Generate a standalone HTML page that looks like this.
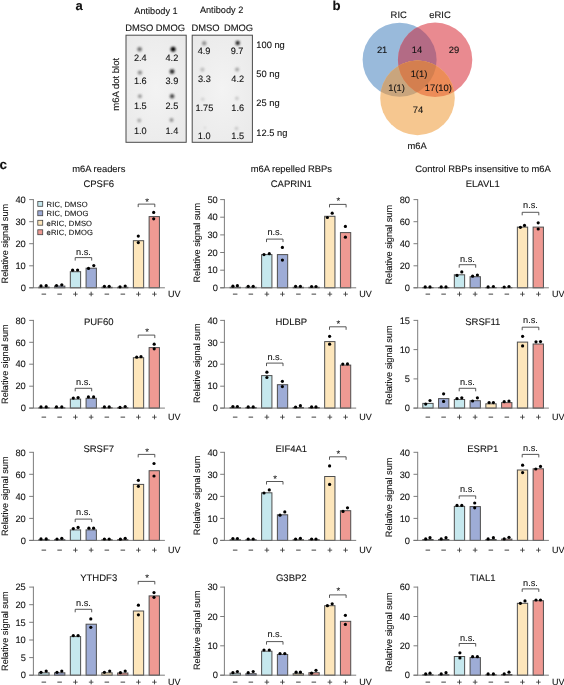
<!DOCTYPE html><html><head><meta charset="utf-8"><style>html,body{margin:0;padding:0;background:#fff;} svg{display:block;will-change:transform;} text{font-family:"Liberation Sans", sans-serif;fill:#111;stroke:#111;stroke-width:0.1px;-webkit-font-smoothing:antialiased;text-rendering:geometricPrecision;}</style></head><body>
<svg width="564" height="685" viewBox="0 0 564 685">
<rect width="564" height="685" fill="#fff"/>
<text x="75.4" y="9.7" font-size="13" text-anchor="start" font-weight="bold" >a</text>
<text x="156" y="13.6" font-size="9.2" text-anchor="middle" font-weight="normal" >Antibody 1</text>
<text x="221.6" y="13.2" font-size="9.2" text-anchor="middle" font-weight="normal" >Antibody 2</text>
<text x="139.2" y="31.0" font-size="9.4" text-anchor="middle" font-weight="normal" >DMSO</text>
<text x="170.4" y="31.0" font-size="9.4" text-anchor="middle" font-weight="normal" >DMOG</text>
<text x="205.5" y="31.0" font-size="9.4" text-anchor="middle" font-weight="normal" >DMSO</text>
<text x="238.5" y="31.0" font-size="9.4" text-anchor="middle" font-weight="normal" >DMOG</text>
<defs><radialGradient id="blot" cx="50%" cy="50%" r="70%"><stop offset="0" stop-color="#f3f3f3"/><stop offset="1" stop-color="#e9e9e9"/></radialGradient><filter id="blur" x="-1" y="-1" width="3" height="3"><feGaussianBlur stdDeviation="0.8"/></filter></defs>
<rect x="126.0" y="35.2" width="60.19999999999999" height="107.1" fill="url(#blot)" stroke="#4a4a4a" stroke-width="1"/>
<rect x="192.2" y="35.2" width="60.20000000000002" height="107.1" fill="url(#blot)" stroke="#4a4a4a" stroke-width="1"/>
<circle cx="139.6" cy="49.2" r="2.3" fill="#707070" filter="url(#blur)"/>
<circle cx="173.1" cy="49.2" r="2.5" fill="#000" filter="url(#blur)"/>
<circle cx="139.9" cy="72.6" r="2.2" fill="#8c8c8c" filter="url(#blur)"/>
<circle cx="172.1" cy="71.6" r="2.4" fill="#222" filter="url(#blur)"/>
<circle cx="139.9" cy="96.2" r="2.0" fill="#999" filter="url(#blur)"/>
<circle cx="172.1" cy="96.2" r="2.2" fill="#444" filter="url(#blur)"/>
<circle cx="139.2" cy="120.6" r="2.0" fill="#aaa" filter="url(#blur)"/>
<circle cx="171.5" cy="120.0" r="2.0" fill="#909090" filter="url(#blur)"/>
<circle cx="204.2" cy="43.3" r="2.2" fill="#8e8e8e" filter="url(#blur)"/>
<circle cx="237.7" cy="43.0" r="2.2" fill="#222" filter="url(#blur)"/>
<circle cx="202.4" cy="69.7" r="2.1" fill="#bdbdbd" filter="url(#blur)"/>
<circle cx="237.1" cy="69.5" r="2.0" fill="#a2a2a2" filter="url(#blur)"/>
<circle cx="202.7" cy="99.3" r="1.8" fill="#d0d0d0" filter="url(#blur)"/>
<circle cx="236.9" cy="98.4" r="1.8" fill="#c6c6c6" filter="url(#blur)"/>
<circle cx="204.9" cy="127.8" r="1.1" fill="#cfcfcf" filter="url(#blur)"/>
<circle cx="236.5" cy="128.4" r="1.7" fill="#c4c4c4" filter="url(#blur)"/>
<text x="140.3" y="61.0" font-size="9.2" text-anchor="middle" font-weight="normal" >2.4</text>
<text x="171.9" y="61.0" font-size="9.2" text-anchor="middle" font-weight="normal" >4.2</text>
<text x="140.3" y="83.9" font-size="9.2" text-anchor="middle" font-weight="normal" >1.6</text>
<text x="171.9" y="83.9" font-size="9.2" text-anchor="middle" font-weight="normal" >3.9</text>
<text x="140.3" y="109.0" font-size="9.2" text-anchor="middle" font-weight="normal" >1.5</text>
<text x="171.9" y="109.0" font-size="9.2" text-anchor="middle" font-weight="normal" >2.5</text>
<text x="140.3" y="133.6" font-size="9.2" text-anchor="middle" font-weight="normal" >1.0</text>
<text x="171.9" y="133.6" font-size="9.2" text-anchor="middle" font-weight="normal" >1.4</text>
<text x="204.1" y="54.4" font-size="9.2" text-anchor="middle" font-weight="normal" >4.9</text>
<text x="237.1" y="54.4" font-size="9.2" text-anchor="middle" font-weight="normal" >9.7</text>
<text x="204.4" y="81.7" font-size="9.2" text-anchor="middle" font-weight="normal" >3.3</text>
<text x="237.7" y="81.7" font-size="9.2" text-anchor="middle" font-weight="normal" >4.2</text>
<text x="204.4" y="111.3" font-size="9.2" text-anchor="middle" font-weight="normal" >1.75</text>
<text x="237.7" y="111.3" font-size="9.2" text-anchor="middle" font-weight="normal" >1.6</text>
<text x="204.2" y="139.4" font-size="9.2" text-anchor="middle" font-weight="normal" >1.0</text>
<text x="237.7" y="139.4" font-size="9.2" text-anchor="middle" font-weight="normal" >1.5</text>
<text x="256.3" y="47.8" font-size="9.3" text-anchor="start" font-weight="normal" >100 ng</text>
<text x="256.3" y="77.1" font-size="9.3" text-anchor="start" font-weight="normal" >50 ng</text>
<text x="256.3" y="106.4" font-size="9.3" text-anchor="start" font-weight="normal" >25 ng</text>
<text x="256.3" y="135.8" font-size="9.3" text-anchor="start" font-weight="normal" >12.5 ng</text>
<text x="0" y="0" font-size="9.5" text-anchor="middle" transform="translate(118.8,84.3) rotate(-90)">m6A dot blot</text>
<text x="332.4" y="9.85" font-size="13.2" text-anchor="start" font-weight="bold" >b</text>
<defs><clipPath id="cB"><circle cx="399.6" cy="59.8" r="37"/></clipPath><clipPath id="cR"><circle cx="435.1" cy="59.8" r="37.2"/></clipPath></defs>
<circle cx="399.6" cy="59.8" r="37" fill="#99badb"/>
<circle cx="435.1" cy="59.8" r="37.2" fill="#e98a90"/>
<circle cx="435.1" cy="59.8" r="37.2" fill="#b36b85" clip-path="url(#cB)"/>
<circle cx="417.5" cy="97.9" r="37.3" fill="#f6c790"/>
<circle cx="417.5" cy="97.9" r="37.3" fill="#c9a57d" clip-path="url(#cB)"/>
<circle cx="417.5" cy="97.9" r="37.3" fill="#ec8c58" clip-path="url(#cR)"/>
<g clip-path="url(#cB)"><circle cx="417.5" cy="97.9" r="37.3" fill="#d47f4f" clip-path="url(#cR)"/></g>
<text x="398.7" y="17.8" font-size="9.4" text-anchor="middle" font-weight="normal" >RIC</text>
<text x="440.0" y="17.8" font-size="9.4" text-anchor="middle" font-weight="normal" >eRIC</text>
<text x="417.2" y="148.9" font-size="9.4" text-anchor="middle" font-weight="normal" >m6A</text>
<text x="382.1" y="53.3" font-size="9.4" text-anchor="middle" font-weight="normal" >21</text>
<text x="416.9" y="53.3" font-size="9.4" text-anchor="middle" font-weight="normal" >14</text>
<text x="454.0" y="53.3" font-size="9.4" text-anchor="middle" font-weight="normal" >29</text>
<text x="419.0" y="76.9" font-size="9.4" text-anchor="middle" font-weight="normal" >1(1)</text>
<text x="396.6" y="90.8" font-size="9.4" text-anchor="middle" font-weight="normal" >1(1)</text>
<text x="438.3" y="90.8" font-size="9.4" text-anchor="middle" font-weight="normal" >17(10)</text>
<text x="418.0" y="113.1" font-size="9.4" text-anchor="middle" font-weight="normal" >74</text>
<text x="-0.5" y="169.0" font-size="13.4" text-anchor="start" font-weight="bold" >c</text>
<text x="98.8" y="171.6" font-size="9.4" text-anchor="middle" font-weight="normal" >m6A readers</text>
<text x="291.3" y="171.6" font-size="9.4" text-anchor="middle" font-weight="normal" >m6A repelled RBPs</text>
<text x="483.1" y="171.6" font-size="9.4" text-anchor="middle" font-weight="normal" >Control RBPs insensitive to m6A</text>
<text x="0" y="0" font-size="9.2" text-anchor="middle" transform="translate(7.5,243.6) rotate(-90)">Relative signal sum</text>
<line x1="29.2" y1="287.8" x2="33.4" y2="287.8" stroke="#6e6e6e" stroke-width="0.9"/>
<text x="25.8" y="291.0" font-size="9.3" text-anchor="end" font-weight="normal" >0</text>
<line x1="29.2" y1="265.8" x2="33.4" y2="265.8" stroke="#6e6e6e" stroke-width="0.9"/>
<text x="25.8" y="268.9" font-size="9.3" text-anchor="end" font-weight="normal" >10</text>
<line x1="29.2" y1="243.7" x2="33.4" y2="243.7" stroke="#6e6e6e" stroke-width="0.9"/>
<text x="25.8" y="246.9" font-size="9.3" text-anchor="end" font-weight="normal" >20</text>
<line x1="29.2" y1="221.7" x2="33.4" y2="221.7" stroke="#6e6e6e" stroke-width="0.9"/>
<text x="25.8" y="224.8" font-size="9.3" text-anchor="end" font-weight="normal" >30</text>
<line x1="29.2" y1="199.6" x2="33.4" y2="199.6" stroke="#6e6e6e" stroke-width="0.9"/>
<text x="25.8" y="202.8" font-size="9.3" text-anchor="end" font-weight="normal" >40</text>
<line x1="33.4" y1="199.2" x2="33.4" y2="287.8" stroke="#6e6e6e" stroke-width="0.9"/>
<rect x="38.80" y="287.10" width="10.30" height="0.70" fill="#c6e8ee" stroke="#4e4e4e" stroke-width="1"/>
<rect x="54.56" y="286.10" width="10.30" height="1.70" fill="#9eacd6" stroke="#4e4e4e" stroke-width="1"/>
<rect x="70.32" y="271.70" width="10.30" height="16.10" fill="#c6e8ee" stroke="#4e4e4e" stroke-width="1"/>
<rect x="86.08" y="268.20" width="10.30" height="19.60" fill="#9eacd6" stroke="#4e4e4e" stroke-width="1"/>
<rect x="101.84" y="287.30" width="10.30" height="0.50" fill="#fde6bb" stroke="#4e4e4e" stroke-width="1"/>
<rect x="117.60" y="287.30" width="10.30" height="0.50" fill="#ef9a93" stroke="#4e4e4e" stroke-width="1"/>
<rect x="133.36" y="240.70" width="10.30" height="47.10" fill="#fde6bb" stroke="#4e4e4e" stroke-width="1"/>
<rect x="149.12" y="216.60" width="10.30" height="71.20" fill="#ef9a93" stroke="#4e4e4e" stroke-width="1"/>
<line x1="29.2" y1="287.8" x2="164.9" y2="287.8" stroke="#6e6e6e" stroke-width="0.9"/>
<circle cx="41" cy="285.9" r="1.6" fill="#000"/>
<circle cx="46.2" cy="285.7" r="1.6" fill="#000"/>
<circle cx="56.5" cy="285.5" r="1.6" fill="#000"/>
<circle cx="61.8" cy="284.8" r="1.6" fill="#000"/>
<circle cx="72.6" cy="270.2" r="1.6" fill="#000"/>
<circle cx="77.6" cy="270.0" r="1.6" fill="#000"/>
<circle cx="88.5" cy="268.4" r="1.6" fill="#000"/>
<circle cx="93.8" cy="265.6" r="1.6" fill="#000"/>
<circle cx="104.4" cy="286.3" r="1.6" fill="#000"/>
<circle cx="109.2" cy="286.3" r="1.6" fill="#000"/>
<circle cx="120.0" cy="286.8" r="1.6" fill="#000"/>
<circle cx="125.2" cy="286.0" r="1.6" fill="#000"/>
<circle cx="138.3" cy="236.1" r="1.6" fill="#000"/>
<circle cx="138.3" cy="242.6" r="1.6" fill="#000"/>
<circle cx="153.7" cy="212.4" r="1.6" fill="#000"/>
<circle cx="153.7" cy="218.8" r="1.6" fill="#000"/>
<path d="M75.2,260.6 V257.6 H91.7 V260.6" fill="none" stroke="#3a3a3a" stroke-width="0.85"/>
<text x="83.5" y="255.3" font-size="9.2" text-anchor="middle" font-weight="normal" >n.s.</text>
<path d="M138.2,207.1 V204.1 H154.8 V207.1" fill="none" stroke="#3a3a3a" stroke-width="0.85"/>
<text x="147.0" y="204.5" font-size="9.5" text-anchor="middle" font-weight="normal" >*</text>
<text x="43.9" y="297.4" font-size="9" text-anchor="middle" font-weight="normal" >−</text>
<text x="59.7" y="297.4" font-size="9" text-anchor="middle" font-weight="normal" >−</text>
<text x="75.5" y="297.4" font-size="9" text-anchor="middle" font-weight="normal" >+</text>
<text x="91.2" y="297.4" font-size="9" text-anchor="middle" font-weight="normal" >+</text>
<text x="107.0" y="297.4" font-size="9" text-anchor="middle" font-weight="normal" >−</text>
<text x="122.8" y="297.4" font-size="9" text-anchor="middle" font-weight="normal" >−</text>
<text x="138.5" y="297.4" font-size="9" text-anchor="middle" font-weight="normal" >+</text>
<text x="154.3" y="297.4" font-size="9" text-anchor="middle" font-weight="normal" >+</text>
<text x="167.9" y="297.4" font-size="9" text-anchor="start" font-weight="normal" >UV</text>
<text x="98.7" y="186.7" font-size="9.5" text-anchor="middle" font-weight="normal" >CPSF6</text>
<text x="0" y="0" font-size="9.2" text-anchor="middle" transform="translate(200.3,242.7) rotate(-90)">Relative signal sum</text>
<line x1="220.2" y1="287.8" x2="224.4" y2="287.8" stroke="#6e6e6e" stroke-width="0.9"/>
<text x="217.8" y="291.0" font-size="9.3" text-anchor="end" font-weight="normal" >0</text>
<line x1="220.2" y1="270.2" x2="224.4" y2="270.2" stroke="#6e6e6e" stroke-width="0.9"/>
<text x="217.8" y="273.4" font-size="9.3" text-anchor="end" font-weight="normal" >10</text>
<line x1="220.2" y1="252.5" x2="224.4" y2="252.5" stroke="#6e6e6e" stroke-width="0.9"/>
<text x="217.8" y="255.7" font-size="9.3" text-anchor="end" font-weight="normal" >20</text>
<line x1="220.2" y1="234.9" x2="224.4" y2="234.9" stroke="#6e6e6e" stroke-width="0.9"/>
<text x="217.8" y="238.1" font-size="9.3" text-anchor="end" font-weight="normal" >30</text>
<line x1="220.2" y1="217.2" x2="224.4" y2="217.2" stroke="#6e6e6e" stroke-width="0.9"/>
<text x="217.8" y="220.4" font-size="9.3" text-anchor="end" font-weight="normal" >40</text>
<line x1="220.2" y1="199.6" x2="224.4" y2="199.6" stroke="#6e6e6e" stroke-width="0.9"/>
<text x="217.8" y="202.8" font-size="9.3" text-anchor="end" font-weight="normal" >50</text>
<line x1="224.4" y1="199.2" x2="224.4" y2="287.8" stroke="#6e6e6e" stroke-width="0.9"/>
<rect x="230.10" y="287.30" width="10.30" height="0.50" fill="#c6e8ee" stroke="#4e4e4e" stroke-width="1"/>
<rect x="245.86" y="287.30" width="10.30" height="0.50" fill="#9eacd6" stroke="#4e4e4e" stroke-width="1"/>
<rect x="261.62" y="254.60" width="10.30" height="33.20" fill="#c6e8ee" stroke="#4e4e4e" stroke-width="1"/>
<rect x="277.38" y="254.60" width="10.30" height="33.20" fill="#9eacd6" stroke="#4e4e4e" stroke-width="1"/>
<rect x="293.14" y="287.30" width="10.30" height="0.50" fill="#fde6bb" stroke="#4e4e4e" stroke-width="1"/>
<rect x="308.90" y="287.30" width="10.30" height="0.50" fill="#ef9a93" stroke="#4e4e4e" stroke-width="1"/>
<rect x="324.66" y="216.30" width="10.30" height="71.50" fill="#fde6bb" stroke="#4e4e4e" stroke-width="1"/>
<rect x="340.42" y="232.60" width="10.30" height="55.20" fill="#ef9a93" stroke="#4e4e4e" stroke-width="1"/>
<line x1="220.2" y1="287.8" x2="356.2" y2="287.8" stroke="#6e6e6e" stroke-width="0.9"/>
<circle cx="232.9" cy="286.2" r="1.6" fill="#000"/>
<circle cx="237.4" cy="285.7" r="1.6" fill="#000"/>
<circle cx="248.2" cy="286.3" r="1.6" fill="#000"/>
<circle cx="253.2" cy="286.3" r="1.6" fill="#000"/>
<circle cx="264" cy="254.6" r="1.6" fill="#000"/>
<circle cx="269.3" cy="253.7" r="1.6" fill="#000"/>
<circle cx="282.4" cy="247.4" r="1.6" fill="#000"/>
<circle cx="282.4" cy="260.1" r="1.6" fill="#000"/>
<circle cx="295.6" cy="286.3" r="1.6" fill="#000"/>
<circle cx="300.4" cy="286.3" r="1.6" fill="#000"/>
<circle cx="311.6" cy="286.5" r="1.6" fill="#000"/>
<circle cx="316.0" cy="286.5" r="1.6" fill="#000"/>
<circle cx="327.4" cy="217.5" r="1.6" fill="#000"/>
<circle cx="332.2" cy="213.2" r="1.6" fill="#000"/>
<circle cx="345.4" cy="226.4" r="1.6" fill="#000"/>
<circle cx="345.4" cy="237.2" r="1.6" fill="#000"/>
<path d="M266.5,242.1 V239.1 H283.0 V242.1" fill="none" stroke="#3a3a3a" stroke-width="0.85"/>
<text x="274.8" y="234.7" font-size="9.2" text-anchor="middle" font-weight="normal" >n.s.</text>
<path d="M329.5,207.4 V204.4 H346.1 V207.4" fill="none" stroke="#3a3a3a" stroke-width="0.85"/>
<text x="338.3" y="204.1" font-size="9.5" text-anchor="middle" font-weight="normal" >*</text>
<text x="235.2" y="297.4" font-size="9" text-anchor="middle" font-weight="normal" >−</text>
<text x="251.0" y="297.4" font-size="9" text-anchor="middle" font-weight="normal" >−</text>
<text x="266.8" y="297.4" font-size="9" text-anchor="middle" font-weight="normal" >+</text>
<text x="282.5" y="297.4" font-size="9" text-anchor="middle" font-weight="normal" >+</text>
<text x="298.3" y="297.4" font-size="9" text-anchor="middle" font-weight="normal" >−</text>
<text x="314.0" y="297.4" font-size="9" text-anchor="middle" font-weight="normal" >−</text>
<text x="329.8" y="297.4" font-size="9" text-anchor="middle" font-weight="normal" >+</text>
<text x="345.6" y="297.4" font-size="9" text-anchor="middle" font-weight="normal" >+</text>
<text x="359.2" y="297.4" font-size="9" text-anchor="start" font-weight="normal" >UV</text>
<text x="291.3" y="186.7" font-size="9.5" text-anchor="middle" font-weight="normal" >CAPRIN1</text>
<text x="0" y="0" font-size="9.2" text-anchor="middle" transform="translate(392.0,244.7) rotate(-90)">Relative signal sum</text>
<line x1="413.5" y1="287.8" x2="417.7" y2="287.8" stroke="#6e6e6e" stroke-width="0.9"/>
<text x="410.0" y="291.0" font-size="9.3" text-anchor="end" font-weight="normal" >0</text>
<line x1="413.5" y1="265.8" x2="417.7" y2="265.8" stroke="#6e6e6e" stroke-width="0.9"/>
<text x="410.0" y="268.9" font-size="9.3" text-anchor="end" font-weight="normal" >20</text>
<line x1="413.5" y1="243.7" x2="417.7" y2="243.7" stroke="#6e6e6e" stroke-width="0.9"/>
<text x="410.0" y="246.9" font-size="9.3" text-anchor="end" font-weight="normal" >40</text>
<line x1="413.5" y1="221.7" x2="417.7" y2="221.7" stroke="#6e6e6e" stroke-width="0.9"/>
<text x="410.0" y="224.8" font-size="9.3" text-anchor="end" font-weight="normal" >60</text>
<line x1="413.5" y1="199.6" x2="417.7" y2="199.6" stroke="#6e6e6e" stroke-width="0.9"/>
<text x="410.0" y="202.8" font-size="9.3" text-anchor="end" font-weight="normal" >80</text>
<line x1="417.7" y1="199.2" x2="417.7" y2="287.8" stroke="#6e6e6e" stroke-width="0.9"/>
<rect x="422.80" y="287.50" width="10.30" height="0.30" fill="#c6e8ee" stroke="#4e4e4e" stroke-width="1"/>
<rect x="438.56" y="287.50" width="10.30" height="0.30" fill="#9eacd6" stroke="#4e4e4e" stroke-width="1"/>
<rect x="454.32" y="274.80" width="10.30" height="13.00" fill="#c6e8ee" stroke="#4e4e4e" stroke-width="1"/>
<rect x="470.08" y="276.70" width="10.30" height="11.10" fill="#9eacd6" stroke="#4e4e4e" stroke-width="1"/>
<rect x="485.84" y="287.50" width="10.30" height="0.30" fill="#fde6bb" stroke="#4e4e4e" stroke-width="1"/>
<rect x="501.60" y="287.50" width="10.30" height="0.30" fill="#ef9a93" stroke="#4e4e4e" stroke-width="1"/>
<rect x="517.36" y="227.10" width="10.30" height="60.70" fill="#fde6bb" stroke="#4e4e4e" stroke-width="1"/>
<rect x="533.12" y="227.10" width="10.30" height="60.70" fill="#ef9a93" stroke="#4e4e4e" stroke-width="1"/>
<line x1="413.5" y1="287.8" x2="548.9" y2="287.8" stroke="#6e6e6e" stroke-width="0.9"/>
<circle cx="425.2" cy="286.9" r="1.6" fill="#000"/>
<circle cx="430" cy="286.9" r="1.6" fill="#000"/>
<circle cx="441.2" cy="286.9" r="1.6" fill="#000"/>
<circle cx="446" cy="286.9" r="1.6" fill="#000"/>
<circle cx="457" cy="275.4" r="1.6" fill="#000"/>
<circle cx="461.8" cy="271.9" r="1.6" fill="#000"/>
<circle cx="472.6" cy="276.2" r="1.6" fill="#000"/>
<circle cx="477.4" cy="275.0" r="1.6" fill="#000"/>
<circle cx="488.1" cy="286.9" r="1.6" fill="#000"/>
<circle cx="493.4" cy="286.5" r="1.6" fill="#000"/>
<circle cx="504.2" cy="287.0" r="1.6" fill="#000"/>
<circle cx="509" cy="286.5" r="1.6" fill="#000"/>
<circle cx="520.4" cy="227.3" r="1.6" fill="#000"/>
<circle cx="524.5" cy="225.4" r="1.6" fill="#000"/>
<circle cx="538.2" cy="222.8" r="1.6" fill="#000"/>
<circle cx="538.2" cy="229.0" r="1.6" fill="#000"/>
<path d="M459.2,267.7 V264.7 H475.7 V267.7" fill="none" stroke="#3a3a3a" stroke-width="0.85"/>
<text x="467.4" y="261.5" font-size="9.2" text-anchor="middle" font-weight="normal" >n.s.</text>
<path d="M522.2,215.3 V212.3 H538.8 V215.3" fill="none" stroke="#3a3a3a" stroke-width="0.85"/>
<text x="530.5" y="208.4" font-size="9.2" text-anchor="middle" font-weight="normal" >n.s.</text>
<text x="427.9" y="297.4" font-size="9" text-anchor="middle" font-weight="normal" >−</text>
<text x="443.7" y="297.4" font-size="9" text-anchor="middle" font-weight="normal" >−</text>
<text x="459.5" y="297.4" font-size="9" text-anchor="middle" font-weight="normal" >+</text>
<text x="475.2" y="297.4" font-size="9" text-anchor="middle" font-weight="normal" >+</text>
<text x="491.0" y="297.4" font-size="9" text-anchor="middle" font-weight="normal" >−</text>
<text x="506.8" y="297.4" font-size="9" text-anchor="middle" font-weight="normal" >−</text>
<text x="522.5" y="297.4" font-size="9" text-anchor="middle" font-weight="normal" >+</text>
<text x="538.3" y="297.4" font-size="9" text-anchor="middle" font-weight="normal" >+</text>
<text x="551.9" y="297.4" font-size="9" text-anchor="start" font-weight="normal" >UV</text>
<text x="482.8" y="186.7" font-size="9.5" text-anchor="middle" font-weight="normal" >ELAVL1</text>
<text x="0" y="0" font-size="9.2" text-anchor="middle" transform="translate(7.5,364.1) rotate(-90)">Relative signal sum</text>
<line x1="29.2" y1="408.1" x2="33.4" y2="408.1" stroke="#6e6e6e" stroke-width="0.9"/>
<text x="25.8" y="411.3" font-size="9.3" text-anchor="end" font-weight="normal" >0</text>
<line x1="29.2" y1="386.2" x2="33.4" y2="386.2" stroke="#6e6e6e" stroke-width="0.9"/>
<text x="25.8" y="389.4" font-size="9.3" text-anchor="end" font-weight="normal" >20</text>
<line x1="29.2" y1="364.2" x2="33.4" y2="364.2" stroke="#6e6e6e" stroke-width="0.9"/>
<text x="25.8" y="367.4" font-size="9.3" text-anchor="end" font-weight="normal" >40</text>
<line x1="29.2" y1="342.3" x2="33.4" y2="342.3" stroke="#6e6e6e" stroke-width="0.9"/>
<text x="25.8" y="345.5" font-size="9.3" text-anchor="end" font-weight="normal" >60</text>
<line x1="29.2" y1="320.4" x2="33.4" y2="320.4" stroke="#6e6e6e" stroke-width="0.9"/>
<text x="25.8" y="323.6" font-size="9.3" text-anchor="end" font-weight="normal" >80</text>
<line x1="33.4" y1="319.9" x2="33.4" y2="408.1" stroke="#6e6e6e" stroke-width="0.9"/>
<rect x="38.80" y="407.70" width="10.30" height="0.40" fill="#c6e8ee" stroke="#4e4e4e" stroke-width="1"/>
<rect x="54.56" y="407.70" width="10.30" height="0.40" fill="#9eacd6" stroke="#4e4e4e" stroke-width="1"/>
<rect x="70.32" y="399.10" width="10.30" height="9.00" fill="#c6e8ee" stroke="#4e4e4e" stroke-width="1"/>
<rect x="86.08" y="398.30" width="10.30" height="9.80" fill="#9eacd6" stroke="#4e4e4e" stroke-width="1"/>
<rect x="101.84" y="407.70" width="10.30" height="0.40" fill="#fde6bb" stroke="#4e4e4e" stroke-width="1"/>
<rect x="117.60" y="407.70" width="10.30" height="0.40" fill="#ef9a93" stroke="#4e4e4e" stroke-width="1"/>
<rect x="133.36" y="357.70" width="10.30" height="50.40" fill="#fde6bb" stroke="#4e4e4e" stroke-width="1"/>
<rect x="149.12" y="347.60" width="10.30" height="60.50" fill="#ef9a93" stroke="#4e4e4e" stroke-width="1"/>
<line x1="29.2" y1="408.1" x2="164.9" y2="408.1" stroke="#6e6e6e" stroke-width="0.9"/>
<circle cx="41" cy="406.9" r="1.6" fill="#000"/>
<circle cx="46.2" cy="406.9" r="1.6" fill="#000"/>
<circle cx="56.5" cy="406.9" r="1.6" fill="#000"/>
<circle cx="61.8" cy="406.9" r="1.6" fill="#000"/>
<circle cx="73.3" cy="398.1" r="1.6" fill="#000"/>
<circle cx="78.1" cy="397.6" r="1.6" fill="#000"/>
<circle cx="88.4" cy="396.9" r="1.6" fill="#000"/>
<circle cx="93.6" cy="396.9" r="1.6" fill="#000"/>
<circle cx="104.4" cy="406.9" r="1.6" fill="#000"/>
<circle cx="109.2" cy="406.9" r="1.6" fill="#000"/>
<circle cx="120" cy="407.4" r="1.6" fill="#000"/>
<circle cx="125.2" cy="406.5" r="1.6" fill="#000"/>
<circle cx="136.7" cy="357.2" r="1.6" fill="#000"/>
<circle cx="141" cy="356.7" r="1.6" fill="#000"/>
<circle cx="154.2" cy="344.2" r="1.6" fill="#000"/>
<circle cx="154.2" cy="348.8" r="1.6" fill="#000"/>
<path d="M75.2,391.3 V388.3 H91.7 V391.3" fill="none" stroke="#3a3a3a" stroke-width="0.85"/>
<text x="83.5" y="385.1" font-size="9.2" text-anchor="middle" font-weight="normal" >n.s.</text>
<path d="M138.2,338.1 V335.1 H154.8 V338.1" fill="none" stroke="#3a3a3a" stroke-width="0.85"/>
<text x="147.0" y="334.6" font-size="9.5" text-anchor="middle" font-weight="normal" >*</text>
<text x="43.9" y="419.5" font-size="9" text-anchor="middle" font-weight="normal" >−</text>
<text x="59.7" y="419.5" font-size="9" text-anchor="middle" font-weight="normal" >−</text>
<text x="75.5" y="419.5" font-size="9" text-anchor="middle" font-weight="normal" >+</text>
<text x="91.2" y="419.5" font-size="9" text-anchor="middle" font-weight="normal" >+</text>
<text x="107.0" y="419.5" font-size="9" text-anchor="middle" font-weight="normal" >−</text>
<text x="122.8" y="419.5" font-size="9" text-anchor="middle" font-weight="normal" >−</text>
<text x="138.5" y="419.5" font-size="9" text-anchor="middle" font-weight="normal" >+</text>
<text x="154.3" y="419.5" font-size="9" text-anchor="middle" font-weight="normal" >+</text>
<text x="167.9" y="419.5" font-size="9" text-anchor="start" font-weight="normal" >UV</text>
<text x="98.7" y="324.8" font-size="9.5" text-anchor="middle" font-weight="normal" >PUF60</text>
<text x="0" y="0" font-size="9.2" text-anchor="middle" transform="translate(200.3,363.2) rotate(-90)">Relative signal sum</text>
<line x1="220.2" y1="408.1" x2="224.4" y2="408.1" stroke="#6e6e6e" stroke-width="0.9"/>
<text x="217.8" y="411.3" font-size="9.3" text-anchor="end" font-weight="normal" >0</text>
<line x1="220.2" y1="386.2" x2="224.4" y2="386.2" stroke="#6e6e6e" stroke-width="0.9"/>
<text x="217.8" y="389.4" font-size="9.3" text-anchor="end" font-weight="normal" >10</text>
<line x1="220.2" y1="364.2" x2="224.4" y2="364.2" stroke="#6e6e6e" stroke-width="0.9"/>
<text x="217.8" y="367.4" font-size="9.3" text-anchor="end" font-weight="normal" >20</text>
<line x1="220.2" y1="342.3" x2="224.4" y2="342.3" stroke="#6e6e6e" stroke-width="0.9"/>
<text x="217.8" y="345.5" font-size="9.3" text-anchor="end" font-weight="normal" >30</text>
<line x1="220.2" y1="320.4" x2="224.4" y2="320.4" stroke="#6e6e6e" stroke-width="0.9"/>
<text x="217.8" y="323.6" font-size="9.3" text-anchor="end" font-weight="normal" >40</text>
<line x1="224.4" y1="319.9" x2="224.4" y2="408.1" stroke="#6e6e6e" stroke-width="0.9"/>
<rect x="230.10" y="407.50" width="10.30" height="0.60" fill="#c6e8ee" stroke="#4e4e4e" stroke-width="1"/>
<rect x="245.86" y="407.50" width="10.30" height="0.60" fill="#9eacd6" stroke="#4e4e4e" stroke-width="1"/>
<rect x="261.62" y="375.60" width="10.30" height="32.50" fill="#c6e8ee" stroke="#4e4e4e" stroke-width="1"/>
<rect x="277.38" y="384.70" width="10.30" height="23.40" fill="#9eacd6" stroke="#4e4e4e" stroke-width="1"/>
<rect x="293.14" y="407.50" width="10.30" height="0.60" fill="#fde6bb" stroke="#4e4e4e" stroke-width="1"/>
<rect x="308.90" y="407.50" width="10.30" height="0.60" fill="#ef9a93" stroke="#4e4e4e" stroke-width="1"/>
<rect x="324.66" y="341.60" width="10.30" height="66.50" fill="#fde6bb" stroke="#4e4e4e" stroke-width="1"/>
<rect x="340.42" y="365.10" width="10.30" height="43.00" fill="#ef9a93" stroke="#4e4e4e" stroke-width="1"/>
<line x1="220.2" y1="408.1" x2="356.2" y2="408.1" stroke="#6e6e6e" stroke-width="0.9"/>
<circle cx="232.9" cy="406.5" r="1.6" fill="#000"/>
<circle cx="237.4" cy="406.5" r="1.6" fill="#000"/>
<circle cx="248.2" cy="406.9" r="1.6" fill="#000"/>
<circle cx="253.2" cy="406.9" r="1.6" fill="#000"/>
<circle cx="266.9" cy="372.2" r="1.6" fill="#000"/>
<circle cx="266.9" cy="377.5" r="1.6" fill="#000"/>
<circle cx="282.4" cy="381.3" r="1.6" fill="#000"/>
<circle cx="282.4" cy="386.6" r="1.6" fill="#000"/>
<circle cx="295.6" cy="407" r="1.6" fill="#000"/>
<circle cx="300.4" cy="405.7" r="1.6" fill="#000"/>
<circle cx="311.6" cy="406.9" r="1.6" fill="#000"/>
<circle cx="316" cy="406.9" r="1.6" fill="#000"/>
<circle cx="329.6" cy="336.3" r="1.6" fill="#000"/>
<circle cx="329.6" cy="344.2" r="1.6" fill="#000"/>
<circle cx="342.8" cy="364.1" r="1.6" fill="#000"/>
<circle cx="347.5" cy="363.9" r="1.6" fill="#000"/>
<path d="M266.5,366.1 V363.1 H283.0 V366.1" fill="none" stroke="#3a3a3a" stroke-width="0.85"/>
<text x="274.8" y="360.0" font-size="9.2" text-anchor="middle" font-weight="normal" >n.s.</text>
<path d="M329.5,329.8 V326.8 H346.1 V329.8" fill="none" stroke="#3a3a3a" stroke-width="0.85"/>
<text x="338.3" y="326.5" font-size="9.5" text-anchor="middle" font-weight="normal" >*</text>
<text x="235.2" y="419.5" font-size="9" text-anchor="middle" font-weight="normal" >−</text>
<text x="251.0" y="419.5" font-size="9" text-anchor="middle" font-weight="normal" >−</text>
<text x="266.8" y="419.5" font-size="9" text-anchor="middle" font-weight="normal" >+</text>
<text x="282.5" y="419.5" font-size="9" text-anchor="middle" font-weight="normal" >+</text>
<text x="298.3" y="419.5" font-size="9" text-anchor="middle" font-weight="normal" >−</text>
<text x="314.0" y="419.5" font-size="9" text-anchor="middle" font-weight="normal" >−</text>
<text x="329.8" y="419.5" font-size="9" text-anchor="middle" font-weight="normal" >+</text>
<text x="345.6" y="419.5" font-size="9" text-anchor="middle" font-weight="normal" >+</text>
<text x="359.2" y="419.5" font-size="9" text-anchor="start" font-weight="normal" >UV</text>
<text x="291.3" y="324.8" font-size="9.5" text-anchor="middle" font-weight="normal" >HDLBP</text>
<text x="0" y="0" font-size="9.2" text-anchor="middle" transform="translate(392.0,365.2) rotate(-90)">Relative signal sum</text>
<line x1="413.5" y1="408.1" x2="417.7" y2="408.1" stroke="#6e6e6e" stroke-width="0.9"/>
<text x="410.0" y="411.3" font-size="9.3" text-anchor="end" font-weight="normal" >0</text>
<line x1="413.5" y1="378.9" x2="417.7" y2="378.9" stroke="#6e6e6e" stroke-width="0.9"/>
<text x="410.0" y="382.1" font-size="9.3" text-anchor="end" font-weight="normal" >5</text>
<line x1="413.5" y1="349.6" x2="417.7" y2="349.6" stroke="#6e6e6e" stroke-width="0.9"/>
<text x="410.0" y="352.8" font-size="9.3" text-anchor="end" font-weight="normal" >10</text>
<line x1="413.5" y1="320.4" x2="417.7" y2="320.4" stroke="#6e6e6e" stroke-width="0.9"/>
<text x="410.0" y="323.6" font-size="9.3" text-anchor="end" font-weight="normal" >15</text>
<line x1="417.7" y1="319.9" x2="417.7" y2="408.1" stroke="#6e6e6e" stroke-width="0.9"/>
<rect x="422.80" y="403.40" width="10.30" height="4.70" fill="#c6e8ee" stroke="#4e4e4e" stroke-width="1"/>
<rect x="438.56" y="398.60" width="10.30" height="9.50" fill="#9eacd6" stroke="#4e4e4e" stroke-width="1"/>
<rect x="454.32" y="399.50" width="10.30" height="8.60" fill="#c6e8ee" stroke="#4e4e4e" stroke-width="1"/>
<rect x="470.08" y="400.70" width="10.30" height="7.40" fill="#9eacd6" stroke="#4e4e4e" stroke-width="1"/>
<rect x="485.84" y="403.80" width="10.30" height="4.30" fill="#fde6bb" stroke="#4e4e4e" stroke-width="1"/>
<rect x="501.60" y="402.60" width="10.30" height="5.50" fill="#ef9a93" stroke="#4e4e4e" stroke-width="1"/>
<rect x="517.36" y="342.10" width="10.30" height="66.00" fill="#fde6bb" stroke="#4e4e4e" stroke-width="1"/>
<rect x="533.12" y="344.00" width="10.30" height="64.10" fill="#ef9a93" stroke="#4e4e4e" stroke-width="1"/>
<line x1="413.5" y1="408.1" x2="548.9" y2="408.1" stroke="#6e6e6e" stroke-width="0.9"/>
<circle cx="425.7" cy="404.1" r="1.6" fill="#000"/>
<circle cx="430" cy="400.5" r="1.6" fill="#000"/>
<circle cx="443.6" cy="393.8" r="1.6" fill="#000"/>
<circle cx="443.6" cy="401.4" r="1.6" fill="#000"/>
<circle cx="457" cy="398.6" r="1.6" fill="#000"/>
<circle cx="461.8" cy="397.8" r="1.6" fill="#000"/>
<circle cx="472.6" cy="401" r="1.6" fill="#000"/>
<circle cx="477.4" cy="397.8" r="1.6" fill="#000"/>
<circle cx="489.1" cy="402.6" r="1.6" fill="#000"/>
<circle cx="493.4" cy="402.6" r="1.6" fill="#000"/>
<circle cx="504.2" cy="401.7" r="1.6" fill="#000"/>
<circle cx="509" cy="401" r="1.6" fill="#000"/>
<circle cx="522.6" cy="336.3" r="1.6" fill="#000"/>
<circle cx="522.6" cy="345.9" r="1.6" fill="#000"/>
<circle cx="536" cy="341.8" r="1.6" fill="#000"/>
<circle cx="540.5" cy="341.6" r="1.6" fill="#000"/>
<path d="M459.2,391.3 V388.3 H475.7 V391.3" fill="none" stroke="#3a3a3a" stroke-width="0.85"/>
<text x="467.4" y="385.1" font-size="9.2" text-anchor="middle" font-weight="normal" >n.s.</text>
<path d="M522.2,330.2 V327.2 H538.8 V330.2" fill="none" stroke="#3a3a3a" stroke-width="0.85"/>
<text x="530.5" y="322.9" font-size="9.2" text-anchor="middle" font-weight="normal" >n.s.</text>
<text x="427.9" y="419.5" font-size="9" text-anchor="middle" font-weight="normal" >−</text>
<text x="443.7" y="419.5" font-size="9" text-anchor="middle" font-weight="normal" >−</text>
<text x="459.5" y="419.5" font-size="9" text-anchor="middle" font-weight="normal" >+</text>
<text x="475.2" y="419.5" font-size="9" text-anchor="middle" font-weight="normal" >+</text>
<text x="491.0" y="419.5" font-size="9" text-anchor="middle" font-weight="normal" >−</text>
<text x="506.8" y="419.5" font-size="9" text-anchor="middle" font-weight="normal" >−</text>
<text x="522.5" y="419.5" font-size="9" text-anchor="middle" font-weight="normal" >+</text>
<text x="538.3" y="419.5" font-size="9" text-anchor="middle" font-weight="normal" >+</text>
<text x="551.9" y="419.5" font-size="9" text-anchor="start" font-weight="normal" >UV</text>
<text x="482.8" y="324.8" font-size="9.5" text-anchor="middle" font-weight="normal" >SRSF11</text>
<text x="0" y="0" font-size="9.2" text-anchor="middle" transform="translate(7.5,496.2) rotate(-90)">Relative signal sum</text>
<line x1="29.2" y1="540.4" x2="33.4" y2="540.4" stroke="#6e6e6e" stroke-width="0.9"/>
<text x="25.8" y="543.6" font-size="9.3" text-anchor="end" font-weight="normal" >0</text>
<line x1="29.2" y1="518.4" x2="33.4" y2="518.4" stroke="#6e6e6e" stroke-width="0.9"/>
<text x="25.8" y="521.6" font-size="9.3" text-anchor="end" font-weight="normal" >20</text>
<line x1="29.2" y1="496.4" x2="33.4" y2="496.4" stroke="#6e6e6e" stroke-width="0.9"/>
<text x="25.8" y="499.6" font-size="9.3" text-anchor="end" font-weight="normal" >40</text>
<line x1="29.2" y1="474.3" x2="33.4" y2="474.3" stroke="#6e6e6e" stroke-width="0.9"/>
<text x="25.8" y="477.5" font-size="9.3" text-anchor="end" font-weight="normal" >60</text>
<line x1="29.2" y1="452.3" x2="33.4" y2="452.3" stroke="#6e6e6e" stroke-width="0.9"/>
<text x="25.8" y="455.5" font-size="9.3" text-anchor="end" font-weight="normal" >80</text>
<line x1="33.4" y1="451.9" x2="33.4" y2="540.4" stroke="#6e6e6e" stroke-width="0.9"/>
<rect x="38.80" y="539.70" width="10.30" height="0.70" fill="#c6e8ee" stroke="#4e4e4e" stroke-width="1"/>
<rect x="54.56" y="539.70" width="10.30" height="0.70" fill="#9eacd6" stroke="#4e4e4e" stroke-width="1"/>
<rect x="70.32" y="529.90" width="10.30" height="10.50" fill="#c6e8ee" stroke="#4e4e4e" stroke-width="1"/>
<rect x="86.08" y="529.90" width="10.30" height="10.50" fill="#9eacd6" stroke="#4e4e4e" stroke-width="1"/>
<rect x="101.84" y="539.70" width="10.30" height="0.70" fill="#fde6bb" stroke="#4e4e4e" stroke-width="1"/>
<rect x="117.60" y="539.70" width="10.30" height="0.70" fill="#ef9a93" stroke="#4e4e4e" stroke-width="1"/>
<rect x="133.36" y="484.40" width="10.30" height="56.00" fill="#fde6bb" stroke="#4e4e4e" stroke-width="1"/>
<rect x="149.12" y="470.70" width="10.30" height="69.70" fill="#ef9a93" stroke="#4e4e4e" stroke-width="1"/>
<line x1="29.2" y1="540.4" x2="164.9" y2="540.4" stroke="#6e6e6e" stroke-width="0.9"/>
<circle cx="41" cy="538.9" r="1.6" fill="#000"/>
<circle cx="46.2" cy="538.9" r="1.6" fill="#000"/>
<circle cx="57" cy="539" r="1.6" fill="#000"/>
<circle cx="61.8" cy="538.3" r="1.6" fill="#000"/>
<circle cx="73.3" cy="528.6" r="1.6" fill="#000"/>
<circle cx="78.1" cy="527.4" r="1.6" fill="#000"/>
<circle cx="88.9" cy="528.2" r="1.6" fill="#000"/>
<circle cx="93.6" cy="528.2" r="1.6" fill="#000"/>
<circle cx="104.4" cy="539" r="1.6" fill="#000"/>
<circle cx="109.2" cy="539" r="1.6" fill="#000"/>
<circle cx="120.4" cy="539.2" r="1.6" fill="#000"/>
<circle cx="125.2" cy="538.3" r="1.6" fill="#000"/>
<circle cx="138.4" cy="480.3" r="1.6" fill="#000"/>
<circle cx="138.4" cy="486.3" r="1.6" fill="#000"/>
<circle cx="154" cy="463.5" r="1.6" fill="#000"/>
<circle cx="154" cy="476" r="1.6" fill="#000"/>
<path d="M75.2,522.1 V519.1 H91.7 V522.1" fill="none" stroke="#3a3a3a" stroke-width="0.85"/>
<text x="83.5" y="515.4" font-size="9.2" text-anchor="middle" font-weight="normal" >n.s.</text>
<path d="M138.2,457.4 V454.4 H154.8 V457.4" fill="none" stroke="#3a3a3a" stroke-width="0.85"/>
<text x="147.0" y="454.7" font-size="9.5" text-anchor="middle" font-weight="normal" >*</text>
<text x="43.9" y="552.9" font-size="9" text-anchor="middle" font-weight="normal" >−</text>
<text x="59.7" y="552.9" font-size="9" text-anchor="middle" font-weight="normal" >−</text>
<text x="75.5" y="552.9" font-size="9" text-anchor="middle" font-weight="normal" >+</text>
<text x="91.2" y="552.9" font-size="9" text-anchor="middle" font-weight="normal" >+</text>
<text x="107.0" y="552.9" font-size="9" text-anchor="middle" font-weight="normal" >−</text>
<text x="122.8" y="552.9" font-size="9" text-anchor="middle" font-weight="normal" >−</text>
<text x="138.5" y="552.9" font-size="9" text-anchor="middle" font-weight="normal" >+</text>
<text x="154.3" y="552.9" font-size="9" text-anchor="middle" font-weight="normal" >+</text>
<text x="167.9" y="552.9" font-size="9" text-anchor="start" font-weight="normal" >UV</text>
<text x="98.7" y="451.6" font-size="9.5" text-anchor="middle" font-weight="normal" >SRSF7</text>
<text x="0" y="0" font-size="9.2" text-anchor="middle" transform="translate(200.3,495.4) rotate(-90)">Relative signal sum</text>
<line x1="220.2" y1="540.4" x2="224.4" y2="540.4" stroke="#6e6e6e" stroke-width="0.9"/>
<text x="217.8" y="543.6" font-size="9.3" text-anchor="end" font-weight="normal" >0</text>
<line x1="220.2" y1="518.4" x2="224.4" y2="518.4" stroke="#6e6e6e" stroke-width="0.9"/>
<text x="217.8" y="521.6" font-size="9.3" text-anchor="end" font-weight="normal" >10</text>
<line x1="220.2" y1="496.4" x2="224.4" y2="496.4" stroke="#6e6e6e" stroke-width="0.9"/>
<text x="217.8" y="499.6" font-size="9.3" text-anchor="end" font-weight="normal" >20</text>
<line x1="220.2" y1="474.3" x2="224.4" y2="474.3" stroke="#6e6e6e" stroke-width="0.9"/>
<text x="217.8" y="477.5" font-size="9.3" text-anchor="end" font-weight="normal" >30</text>
<line x1="220.2" y1="452.3" x2="224.4" y2="452.3" stroke="#6e6e6e" stroke-width="0.9"/>
<text x="217.8" y="455.5" font-size="9.3" text-anchor="end" font-weight="normal" >40</text>
<line x1="224.4" y1="451.9" x2="224.4" y2="540.4" stroke="#6e6e6e" stroke-width="0.9"/>
<rect x="230.10" y="539.70" width="10.30" height="0.70" fill="#c6e8ee" stroke="#4e4e4e" stroke-width="1"/>
<rect x="245.86" y="539.70" width="10.30" height="0.70" fill="#9eacd6" stroke="#4e4e4e" stroke-width="1"/>
<rect x="261.62" y="492.80" width="10.30" height="47.60" fill="#c6e8ee" stroke="#4e4e4e" stroke-width="1"/>
<rect x="277.38" y="514.80" width="10.30" height="25.60" fill="#9eacd6" stroke="#4e4e4e" stroke-width="1"/>
<rect x="293.14" y="539.70" width="10.30" height="0.70" fill="#fde6bb" stroke="#4e4e4e" stroke-width="1"/>
<rect x="308.90" y="539.70" width="10.30" height="0.70" fill="#ef9a93" stroke="#4e4e4e" stroke-width="1"/>
<rect x="324.66" y="476.50" width="10.30" height="63.90" fill="#fde6bb" stroke="#4e4e4e" stroke-width="1"/>
<rect x="340.42" y="510.70" width="10.30" height="29.70" fill="#ef9a93" stroke="#4e4e4e" stroke-width="1"/>
<line x1="220.2" y1="540.4" x2="356.2" y2="540.4" stroke="#6e6e6e" stroke-width="0.9"/>
<circle cx="232.9" cy="538.5" r="1.6" fill="#000"/>
<circle cx="237.4" cy="538.5" r="1.6" fill="#000"/>
<circle cx="248.2" cy="539" r="1.6" fill="#000"/>
<circle cx="253.2" cy="539" r="1.6" fill="#000"/>
<circle cx="264" cy="493" r="1.6" fill="#000"/>
<circle cx="269.3" cy="489.9" r="1.6" fill="#000"/>
<circle cx="280" cy="515.2" r="1.6" fill="#000"/>
<circle cx="284.8" cy="511.9" r="1.6" fill="#000"/>
<circle cx="295.6" cy="539" r="1.6" fill="#000"/>
<circle cx="300.4" cy="538.3" r="1.6" fill="#000"/>
<circle cx="311.6" cy="539" r="1.6" fill="#000"/>
<circle cx="316" cy="539" r="1.6" fill="#000"/>
<circle cx="329.6" cy="465.9" r="1.6" fill="#000"/>
<circle cx="329.6" cy="484.4" r="1.6" fill="#000"/>
<circle cx="343" cy="511.4" r="1.6" fill="#000"/>
<circle cx="347.5" cy="507.8" r="1.6" fill="#000"/>
<path d="M266.5,484.5 V481.5 H283.0 V484.5" fill="none" stroke="#3a3a3a" stroke-width="0.85"/>
<text x="275.2" y="481.7" font-size="9.5" text-anchor="middle" font-weight="normal" >*</text>
<path d="M329.5,459.8 V456.8 H346.1 V459.8" fill="none" stroke="#3a3a3a" stroke-width="0.85"/>
<text x="338.3" y="457.1" font-size="9.5" text-anchor="middle" font-weight="normal" >*</text>
<text x="235.2" y="552.9" font-size="9" text-anchor="middle" font-weight="normal" >−</text>
<text x="251.0" y="552.9" font-size="9" text-anchor="middle" font-weight="normal" >−</text>
<text x="266.8" y="552.9" font-size="9" text-anchor="middle" font-weight="normal" >+</text>
<text x="282.5" y="552.9" font-size="9" text-anchor="middle" font-weight="normal" >+</text>
<text x="298.3" y="552.9" font-size="9" text-anchor="middle" font-weight="normal" >−</text>
<text x="314.0" y="552.9" font-size="9" text-anchor="middle" font-weight="normal" >−</text>
<text x="329.8" y="552.9" font-size="9" text-anchor="middle" font-weight="normal" >+</text>
<text x="345.6" y="552.9" font-size="9" text-anchor="middle" font-weight="normal" >+</text>
<text x="359.2" y="552.9" font-size="9" text-anchor="start" font-weight="normal" >UV</text>
<text x="291.3" y="451.6" font-size="9.5" text-anchor="middle" font-weight="normal" >EIF4A1</text>
<text x="0" y="0" font-size="9.2" text-anchor="middle" transform="translate(392.0,497.4) rotate(-90)">Relative signal sum</text>
<line x1="413.5" y1="540.4" x2="417.7" y2="540.4" stroke="#6e6e6e" stroke-width="0.9"/>
<text x="410.0" y="543.6" font-size="9.3" text-anchor="end" font-weight="normal" >0</text>
<line x1="413.5" y1="518.4" x2="417.7" y2="518.4" stroke="#6e6e6e" stroke-width="0.9"/>
<text x="410.0" y="521.6" font-size="9.3" text-anchor="end" font-weight="normal" >10</text>
<line x1="413.5" y1="496.4" x2="417.7" y2="496.4" stroke="#6e6e6e" stroke-width="0.9"/>
<text x="410.0" y="499.6" font-size="9.3" text-anchor="end" font-weight="normal" >20</text>
<line x1="413.5" y1="474.3" x2="417.7" y2="474.3" stroke="#6e6e6e" stroke-width="0.9"/>
<text x="410.0" y="477.5" font-size="9.3" text-anchor="end" font-weight="normal" >30</text>
<line x1="413.5" y1="452.3" x2="417.7" y2="452.3" stroke="#6e6e6e" stroke-width="0.9"/>
<text x="410.0" y="455.5" font-size="9.3" text-anchor="end" font-weight="normal" >40</text>
<line x1="417.7" y1="451.9" x2="417.7" y2="540.4" stroke="#6e6e6e" stroke-width="0.9"/>
<rect x="422.80" y="539.50" width="10.30" height="0.90" fill="#c6e8ee" stroke="#4e4e4e" stroke-width="1"/>
<rect x="438.56" y="539.50" width="10.30" height="0.90" fill="#9eacd6" stroke="#4e4e4e" stroke-width="1"/>
<rect x="454.32" y="506.40" width="10.30" height="34.00" fill="#c6e8ee" stroke="#4e4e4e" stroke-width="1"/>
<rect x="470.08" y="506.60" width="10.30" height="33.80" fill="#9eacd6" stroke="#4e4e4e" stroke-width="1"/>
<rect x="485.84" y="539.50" width="10.30" height="0.90" fill="#fde6bb" stroke="#4e4e4e" stroke-width="1"/>
<rect x="501.60" y="539.10" width="10.30" height="1.30" fill="#ef9a93" stroke="#4e4e4e" stroke-width="1"/>
<rect x="517.36" y="470.00" width="10.30" height="70.40" fill="#fde6bb" stroke="#4e4e4e" stroke-width="1"/>
<rect x="533.12" y="468.80" width="10.30" height="71.60" fill="#ef9a93" stroke="#4e4e4e" stroke-width="1"/>
<line x1="413.5" y1="540.4" x2="548.9" y2="540.4" stroke="#6e6e6e" stroke-width="0.9"/>
<circle cx="425.7" cy="538.9" r="1.6" fill="#000"/>
<circle cx="430" cy="537.7" r="1.6" fill="#000"/>
<circle cx="441.2" cy="538.9" r="1.6" fill="#000"/>
<circle cx="446" cy="537.7" r="1.6" fill="#000"/>
<circle cx="457" cy="505.4" r="1.6" fill="#000"/>
<circle cx="461.8" cy="505.4" r="1.6" fill="#000"/>
<circle cx="474.7" cy="503" r="1.6" fill="#000"/>
<circle cx="474.7" cy="507.8" r="1.6" fill="#000"/>
<circle cx="488.1" cy="538.9" r="1.6" fill="#000"/>
<circle cx="493.4" cy="537.7" r="1.6" fill="#000"/>
<circle cx="504.2" cy="538.9" r="1.6" fill="#000"/>
<circle cx="509" cy="537.3" r="1.6" fill="#000"/>
<circle cx="522.6" cy="465.2" r="1.6" fill="#000"/>
<circle cx="522.6" cy="472.6" r="1.6" fill="#000"/>
<circle cx="535.8" cy="469" r="1.6" fill="#000"/>
<circle cx="540.5" cy="466.4" r="1.6" fill="#000"/>
<path d="M459.2,498.9 V495.9 H475.7 V498.9" fill="none" stroke="#3a3a3a" stroke-width="0.85"/>
<text x="467.4" y="492.0" font-size="9.2" text-anchor="middle" font-weight="normal" >n.s.</text>
<path d="M522.2,457.4 V454.4 H538.8 V457.4" fill="none" stroke="#3a3a3a" stroke-width="0.85"/>
<text x="530.5" y="450.8" font-size="9.2" text-anchor="middle" font-weight="normal" >n.s.</text>
<text x="427.9" y="552.9" font-size="9" text-anchor="middle" font-weight="normal" >−</text>
<text x="443.7" y="552.9" font-size="9" text-anchor="middle" font-weight="normal" >−</text>
<text x="459.5" y="552.9" font-size="9" text-anchor="middle" font-weight="normal" >+</text>
<text x="475.2" y="552.9" font-size="9" text-anchor="middle" font-weight="normal" >+</text>
<text x="491.0" y="552.9" font-size="9" text-anchor="middle" font-weight="normal" >−</text>
<text x="506.8" y="552.9" font-size="9" text-anchor="middle" font-weight="normal" >−</text>
<text x="522.5" y="552.9" font-size="9" text-anchor="middle" font-weight="normal" >+</text>
<text x="538.3" y="552.9" font-size="9" text-anchor="middle" font-weight="normal" >+</text>
<text x="551.9" y="552.9" font-size="9" text-anchor="start" font-weight="normal" >UV</text>
<text x="482.8" y="451.6" font-size="9.5" text-anchor="middle" font-weight="normal" >ESRP1</text>
<text x="0" y="0" font-size="9.2" text-anchor="middle" transform="translate(7.5,631.1) rotate(-90)">Relative signal sum</text>
<line x1="29.2" y1="675.2" x2="33.4" y2="675.2" stroke="#6e6e6e" stroke-width="0.9"/>
<text x="25.8" y="678.4" font-size="9.3" text-anchor="end" font-weight="normal" >0</text>
<line x1="29.2" y1="657.6" x2="33.4" y2="657.6" stroke="#6e6e6e" stroke-width="0.9"/>
<text x="25.8" y="660.8" font-size="9.3" text-anchor="end" font-weight="normal" >5</text>
<line x1="29.2" y1="640.0" x2="33.4" y2="640.0" stroke="#6e6e6e" stroke-width="0.9"/>
<text x="25.8" y="643.2" font-size="9.3" text-anchor="end" font-weight="normal" >10</text>
<line x1="29.2" y1="622.3" x2="33.4" y2="622.3" stroke="#6e6e6e" stroke-width="0.9"/>
<text x="25.8" y="625.5" font-size="9.3" text-anchor="end" font-weight="normal" >15</text>
<line x1="29.2" y1="604.7" x2="33.4" y2="604.7" stroke="#6e6e6e" stroke-width="0.9"/>
<text x="25.8" y="607.9" font-size="9.3" text-anchor="end" font-weight="normal" >20</text>
<line x1="29.2" y1="587.1" x2="33.4" y2="587.1" stroke="#6e6e6e" stroke-width="0.9"/>
<text x="25.8" y="590.3" font-size="9.3" text-anchor="end" font-weight="normal" >25</text>
<line x1="33.4" y1="586.6" x2="33.4" y2="675.2" stroke="#6e6e6e" stroke-width="0.9"/>
<rect x="38.80" y="672.80" width="10.30" height="2.40" fill="#c6e8ee" stroke="#4e4e4e" stroke-width="1"/>
<rect x="54.56" y="672.80" width="10.30" height="2.40" fill="#9eacd6" stroke="#4e4e4e" stroke-width="1"/>
<rect x="70.32" y="636.60" width="10.30" height="38.60" fill="#c6e8ee" stroke="#4e4e4e" stroke-width="1"/>
<rect x="86.08" y="624.20" width="10.30" height="51.00" fill="#9eacd6" stroke="#4e4e4e" stroke-width="1"/>
<rect x="101.84" y="672.80" width="10.30" height="2.40" fill="#fde6bb" stroke="#4e4e4e" stroke-width="1"/>
<rect x="117.60" y="673.00" width="10.30" height="2.20" fill="#ef9a93" stroke="#4e4e4e" stroke-width="1"/>
<rect x="133.36" y="611.00" width="10.30" height="64.20" fill="#fde6bb" stroke="#4e4e4e" stroke-width="1"/>
<rect x="149.12" y="595.90" width="10.30" height="79.30" fill="#ef9a93" stroke="#4e4e4e" stroke-width="1"/>
<line x1="29.2" y1="675.2" x2="164.9" y2="675.2" stroke="#6e6e6e" stroke-width="0.9"/>
<circle cx="41" cy="672.3" r="1.6" fill="#000"/>
<circle cx="46.2" cy="671.1" r="1.6" fill="#000"/>
<circle cx="57" cy="672.3" r="1.6" fill="#000"/>
<circle cx="61.8" cy="671.1" r="1.6" fill="#000"/>
<circle cx="73.3" cy="635.6" r="1.6" fill="#000"/>
<circle cx="78.1" cy="635.6" r="1.6" fill="#000"/>
<circle cx="90.8" cy="618.9" r="1.6" fill="#000"/>
<circle cx="90.8" cy="627.3" r="1.6" fill="#000"/>
<circle cx="104.4" cy="672.3" r="1.6" fill="#000"/>
<circle cx="109.7" cy="671.1" r="1.6" fill="#000"/>
<circle cx="120.4" cy="672.7" r="1.6" fill="#000"/>
<circle cx="125.2" cy="671.1" r="1.6" fill="#000"/>
<circle cx="138.4" cy="605.2" r="1.6" fill="#000"/>
<circle cx="138.4" cy="614.8" r="1.6" fill="#000"/>
<circle cx="154" cy="592.6" r="1.6" fill="#000"/>
<circle cx="154" cy="597.3" r="1.6" fill="#000"/>
<path d="M75.2,612.3 V609.3 H91.7 V612.3" fill="none" stroke="#3a3a3a" stroke-width="0.85"/>
<text x="83.5" y="605.9" font-size="9.2" text-anchor="middle" font-weight="normal" >n.s.</text>
<path d="M138.2,584.4 V581.4 H154.8 V584.4" fill="none" stroke="#3a3a3a" stroke-width="0.85"/>
<text x="147.0" y="581.3" font-size="9.5" text-anchor="middle" font-weight="normal" >*</text>
<text x="43.9" y="685.1" font-size="9" text-anchor="middle" font-weight="normal" >−</text>
<text x="59.7" y="685.1" font-size="9" text-anchor="middle" font-weight="normal" >−</text>
<text x="75.5" y="685.1" font-size="9" text-anchor="middle" font-weight="normal" >+</text>
<text x="91.2" y="685.1" font-size="9" text-anchor="middle" font-weight="normal" >+</text>
<text x="107.0" y="685.1" font-size="9" text-anchor="middle" font-weight="normal" >−</text>
<text x="122.8" y="685.1" font-size="9" text-anchor="middle" font-weight="normal" >−</text>
<text x="138.5" y="685.1" font-size="9" text-anchor="middle" font-weight="normal" >+</text>
<text x="154.3" y="685.1" font-size="9" text-anchor="middle" font-weight="normal" >+</text>
<text x="167.9" y="685.1" font-size="9" text-anchor="start" font-weight="normal" >UV</text>
<text x="98.7" y="581.2" font-size="9.5" text-anchor="middle" font-weight="normal" >YTHDF3</text>
<text x="0" y="0" font-size="9.2" text-anchor="middle" transform="translate(200.3,630.2) rotate(-90)">Relative signal sum</text>
<line x1="220.2" y1="675.2" x2="224.4" y2="675.2" stroke="#6e6e6e" stroke-width="0.9"/>
<text x="217.8" y="678.4" font-size="9.3" text-anchor="end" font-weight="normal" >0</text>
<line x1="220.2" y1="645.8" x2="224.4" y2="645.8" stroke="#6e6e6e" stroke-width="0.9"/>
<text x="217.8" y="649.0" font-size="9.3" text-anchor="end" font-weight="normal" >10</text>
<line x1="220.2" y1="616.5" x2="224.4" y2="616.5" stroke="#6e6e6e" stroke-width="0.9"/>
<text x="217.8" y="619.7" font-size="9.3" text-anchor="end" font-weight="normal" >20</text>
<line x1="220.2" y1="587.1" x2="224.4" y2="587.1" stroke="#6e6e6e" stroke-width="0.9"/>
<text x="217.8" y="590.3" font-size="9.3" text-anchor="end" font-weight="normal" >30</text>
<line x1="224.4" y1="586.6" x2="224.4" y2="675.2" stroke="#6e6e6e" stroke-width="0.9"/>
<rect x="230.10" y="673.20" width="10.30" height="2.00" fill="#c6e8ee" stroke="#4e4e4e" stroke-width="1"/>
<rect x="245.86" y="673.70" width="10.30" height="1.50" fill="#9eacd6" stroke="#4e4e4e" stroke-width="1"/>
<rect x="261.62" y="651.20" width="10.30" height="24.00" fill="#c6e8ee" stroke="#4e4e4e" stroke-width="1"/>
<rect x="277.38" y="654.50" width="10.30" height="20.70" fill="#9eacd6" stroke="#4e4e4e" stroke-width="1"/>
<rect x="293.14" y="673.70" width="10.30" height="1.50" fill="#fde6bb" stroke="#4e4e4e" stroke-width="1"/>
<rect x="308.90" y="672.70" width="10.30" height="2.50" fill="#ef9a93" stroke="#4e4e4e" stroke-width="1"/>
<rect x="324.66" y="605.70" width="10.30" height="69.50" fill="#fde6bb" stroke="#4e4e4e" stroke-width="1"/>
<rect x="340.42" y="621.30" width="10.30" height="53.90" fill="#ef9a93" stroke="#4e4e4e" stroke-width="1"/>
<line x1="220.2" y1="675.2" x2="356.2" y2="675.2" stroke="#6e6e6e" stroke-width="0.9"/>
<circle cx="232.9" cy="672.7" r="1.6" fill="#000"/>
<circle cx="237.4" cy="671.5" r="1.6" fill="#000"/>
<circle cx="248.2" cy="672.7" r="1.6" fill="#000"/>
<circle cx="253.2" cy="671.5" r="1.6" fill="#000"/>
<circle cx="264" cy="650" r="1.6" fill="#000"/>
<circle cx="269.3" cy="650" r="1.6" fill="#000"/>
<circle cx="280" cy="653.6" r="1.6" fill="#000"/>
<circle cx="284.8" cy="653.6" r="1.6" fill="#000"/>
<circle cx="296.1" cy="672.2" r="1.6" fill="#000"/>
<circle cx="300.4" cy="672.2" r="1.6" fill="#000"/>
<circle cx="311.6" cy="673.2" r="1.6" fill="#000"/>
<circle cx="316" cy="670.3" r="1.6" fill="#000"/>
<circle cx="327.4" cy="605.7" r="1.6" fill="#000"/>
<circle cx="332.2" cy="603.8" r="1.6" fill="#000"/>
<circle cx="345.4" cy="615.3" r="1.6" fill="#000"/>
<circle cx="345.4" cy="624.4" r="1.6" fill="#000"/>
<path d="M266.5,644.6 V641.6 H283.0 V644.6" fill="none" stroke="#3a3a3a" stroke-width="0.85"/>
<text x="274.8" y="637.0" font-size="9.2" text-anchor="middle" font-weight="normal" >n.s.</text>
<path d="M329.5,597.9 V594.9 H346.1 V597.9" fill="none" stroke="#3a3a3a" stroke-width="0.85"/>
<text x="338.3" y="593.9" font-size="9.5" text-anchor="middle" font-weight="normal" >*</text>
<text x="235.2" y="685.1" font-size="9" text-anchor="middle" font-weight="normal" >−</text>
<text x="251.0" y="685.1" font-size="9" text-anchor="middle" font-weight="normal" >−</text>
<text x="266.8" y="685.1" font-size="9" text-anchor="middle" font-weight="normal" >+</text>
<text x="282.5" y="685.1" font-size="9" text-anchor="middle" font-weight="normal" >+</text>
<text x="298.3" y="685.1" font-size="9" text-anchor="middle" font-weight="normal" >−</text>
<text x="314.0" y="685.1" font-size="9" text-anchor="middle" font-weight="normal" >−</text>
<text x="329.8" y="685.1" font-size="9" text-anchor="middle" font-weight="normal" >+</text>
<text x="345.6" y="685.1" font-size="9" text-anchor="middle" font-weight="normal" >+</text>
<text x="359.2" y="685.1" font-size="9" text-anchor="start" font-weight="normal" >UV</text>
<text x="291.3" y="581.2" font-size="9.5" text-anchor="middle" font-weight="normal" >G3BP2</text>
<text x="0" y="0" font-size="9.2" text-anchor="middle" transform="translate(392.0,632.2) rotate(-90)">Relative signal sum</text>
<line x1="413.5" y1="675.2" x2="417.7" y2="675.2" stroke="#6e6e6e" stroke-width="0.9"/>
<text x="410.0" y="678.4" font-size="9.3" text-anchor="end" font-weight="normal" >0</text>
<line x1="413.5" y1="645.8" x2="417.7" y2="645.8" stroke="#6e6e6e" stroke-width="0.9"/>
<text x="410.0" y="649.0" font-size="9.3" text-anchor="end" font-weight="normal" >20</text>
<line x1="413.5" y1="616.5" x2="417.7" y2="616.5" stroke="#6e6e6e" stroke-width="0.9"/>
<text x="410.0" y="619.7" font-size="9.3" text-anchor="end" font-weight="normal" >40</text>
<line x1="413.5" y1="587.1" x2="417.7" y2="587.1" stroke="#6e6e6e" stroke-width="0.9"/>
<text x="410.0" y="590.3" font-size="9.3" text-anchor="end" font-weight="normal" >60</text>
<line x1="417.7" y1="586.6" x2="417.7" y2="675.2" stroke="#6e6e6e" stroke-width="0.9"/>
<rect x="422.80" y="674.70" width="10.30" height="0.50" fill="#c6e8ee" stroke="#4e4e4e" stroke-width="1"/>
<rect x="438.56" y="674.70" width="10.30" height="0.50" fill="#9eacd6" stroke="#4e4e4e" stroke-width="1"/>
<rect x="454.32" y="656.50" width="10.30" height="18.70" fill="#c6e8ee" stroke="#4e4e4e" stroke-width="1"/>
<rect x="470.08" y="657.60" width="10.30" height="17.60" fill="#9eacd6" stroke="#4e4e4e" stroke-width="1"/>
<rect x="485.84" y="674.70" width="10.30" height="0.50" fill="#fde6bb" stroke="#4e4e4e" stroke-width="1"/>
<rect x="501.60" y="674.50" width="10.30" height="0.70" fill="#ef9a93" stroke="#4e4e4e" stroke-width="1"/>
<rect x="517.36" y="603.30" width="10.30" height="71.90" fill="#fde6bb" stroke="#4e4e4e" stroke-width="1"/>
<rect x="533.12" y="600.70" width="10.30" height="74.50" fill="#ef9a93" stroke="#4e4e4e" stroke-width="1"/>
<line x1="413.5" y1="675.2" x2="548.9" y2="675.2" stroke="#6e6e6e" stroke-width="0.9"/>
<circle cx="425.7" cy="673.9" r="1.6" fill="#000"/>
<circle cx="430" cy="673.2" r="1.6" fill="#000"/>
<circle cx="441.2" cy="673.9" r="1.6" fill="#000"/>
<circle cx="446" cy="672.7" r="1.6" fill="#000"/>
<circle cx="459.9" cy="652.8" r="1.6" fill="#000"/>
<circle cx="459.9" cy="657.9" r="1.6" fill="#000"/>
<circle cx="472.6" cy="656.7" r="1.6" fill="#000"/>
<circle cx="477.4" cy="656.7" r="1.6" fill="#000"/>
<circle cx="488.1" cy="673.9" r="1.6" fill="#000"/>
<circle cx="493.4" cy="673.9" r="1.6" fill="#000"/>
<circle cx="504.2" cy="673.9" r="1.6" fill="#000"/>
<circle cx="509" cy="672.2" r="1.6" fill="#000"/>
<circle cx="520.4" cy="603.3" r="1.6" fill="#000"/>
<circle cx="525" cy="600.9" r="1.6" fill="#000"/>
<circle cx="536" cy="600" r="1.6" fill="#000"/>
<circle cx="540.5" cy="600" r="1.6" fill="#000"/>
<path d="M459.2,646.5 V643.5 H475.7 V646.5" fill="none" stroke="#3a3a3a" stroke-width="0.85"/>
<text x="467.4" y="640.8" font-size="9.2" text-anchor="middle" font-weight="normal" >n.s.</text>
<path d="M522.2,591.9 V588.9 H538.8 V591.9" fill="none" stroke="#3a3a3a" stroke-width="0.85"/>
<text x="530.5" y="586.2" font-size="9.2" text-anchor="middle" font-weight="normal" >n.s.</text>
<text x="427.9" y="685.1" font-size="9" text-anchor="middle" font-weight="normal" >−</text>
<text x="443.7" y="685.1" font-size="9" text-anchor="middle" font-weight="normal" >−</text>
<text x="459.5" y="685.1" font-size="9" text-anchor="middle" font-weight="normal" >+</text>
<text x="475.2" y="685.1" font-size="9" text-anchor="middle" font-weight="normal" >+</text>
<text x="491.0" y="685.1" font-size="9" text-anchor="middle" font-weight="normal" >−</text>
<text x="506.8" y="685.1" font-size="9" text-anchor="middle" font-weight="normal" >−</text>
<text x="522.5" y="685.1" font-size="9" text-anchor="middle" font-weight="normal" >+</text>
<text x="538.3" y="685.1" font-size="9" text-anchor="middle" font-weight="normal" >+</text>
<text x="551.9" y="685.1" font-size="9" text-anchor="start" font-weight="normal" >UV</text>
<text x="482.8" y="581.2" font-size="9.5" text-anchor="middle" font-weight="normal" >TIAL1</text>
<rect x="37.8" y="201.4" width="4.9" height="4.9" fill="#c6e8ee" stroke="#444" stroke-width="0.8"/>
<text x="46.6" y="206.6" font-size="7.6" text-anchor="start" font-weight="normal" letter-spacing="0.12">RIC, DMSO</text>
<rect x="37.8" y="210.8" width="4.9" height="4.9" fill="#9eacd6" stroke="#444" stroke-width="0.8"/>
<text x="46.6" y="216.0" font-size="7.6" text-anchor="start" font-weight="normal" letter-spacing="0.12">RIC, DMOG</text>
<rect x="37.8" y="220.3" width="4.9" height="4.9" fill="#fde6bb" stroke="#444" stroke-width="0.8"/>
<text x="46.6" y="225.5" font-size="7.6" text-anchor="start" font-weight="normal" letter-spacing="0.12">eRIC, DMSO</text>
<rect x="37.8" y="229.8" width="4.9" height="4.9" fill="#ef9a93" stroke="#444" stroke-width="0.8"/>
<text x="46.6" y="234.9" font-size="7.6" text-anchor="start" font-weight="normal" letter-spacing="0.12">eRIC, DMOG</text>
</svg></body></html>
